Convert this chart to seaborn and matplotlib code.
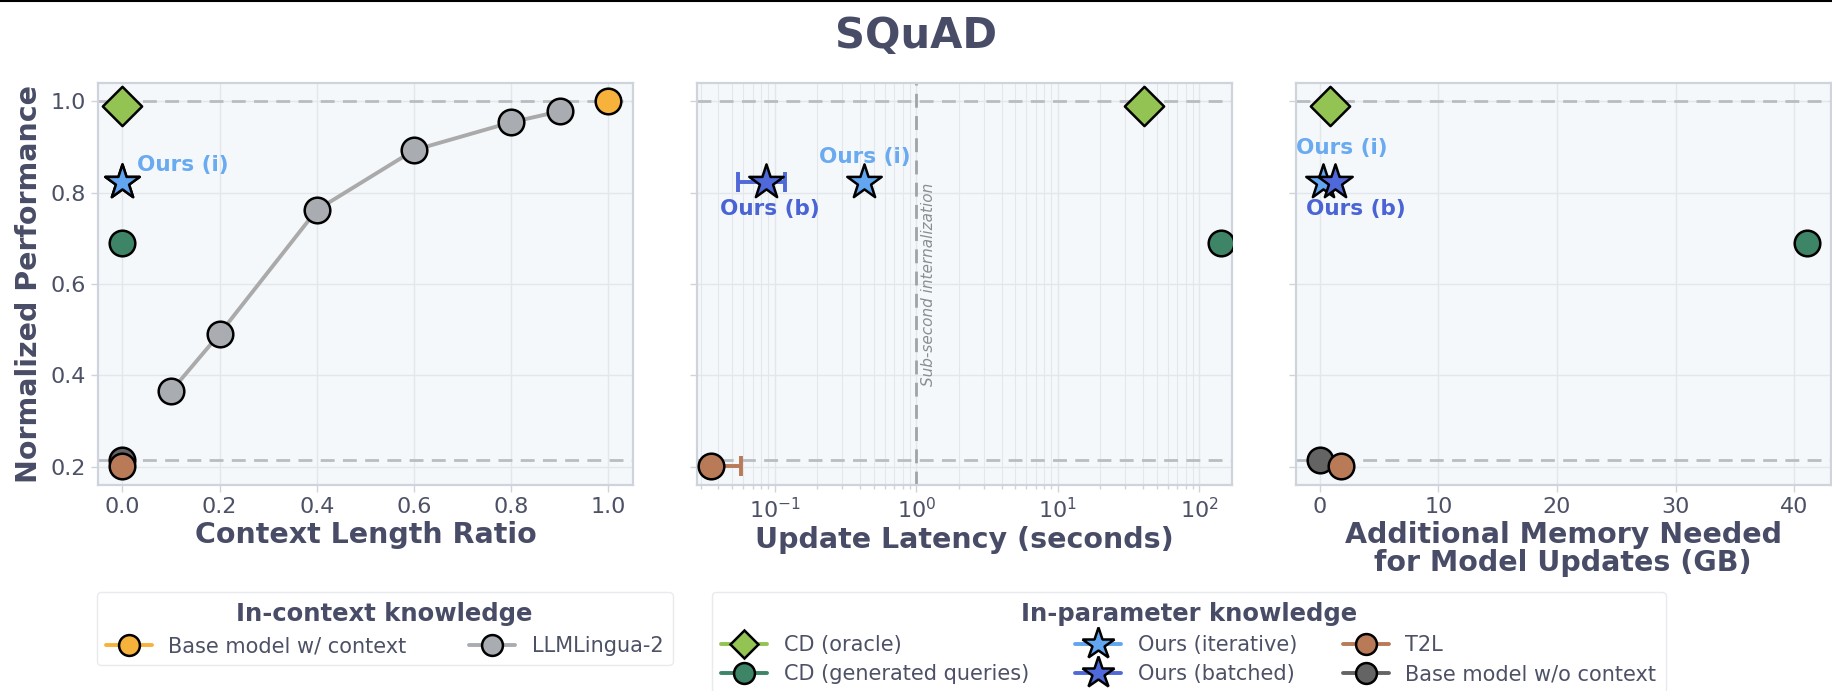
import matplotlib
matplotlib.use("Agg")
import matplotlib.pyplot as plt
from matplotlib.lines import Line2D
import seaborn as sns
import numpy as np

# ---------------- data ----------------
llml_ratio = [0.1, 0.2, 0.4, 0.6, 0.8, 0.9]
llml_perf = [0.365, 0.491, 0.762, 0.893, 0.954, 0.978]

base_ctx_ratio = [1.0]
base_ctx_perf = [1.0]
base_noctx_perf = 0.215

methods = ["CD (oracle)", "CD (generated queries)", "Ours (iterative)",
           "Ours (batched)", "T2L", "Base model w/o context"]
perf = [0.990, 0.689, 0.823, 0.823, 0.201, 0.215]
ctx_ratio = [0.0, 0.0, 0.0, 0.0, 0.0, 0.0]
latency = [40.5, 143.0, 0.428, 0.086, 0.0352, None]
latency_err_lo = [0, 0, 0, 0.031, 0.0, 0]
latency_err_hi = [0, 0, 0, 0.032, 0.0222, 0]
memory_gb = [0.83, 41.1, 0.3, 1.23, 1.79, 0.0]

colors = {
    "Base model w/ context": "#f7b23b",
    "LLMLingua-2": "#a9adb1",
    "CD (oracle)": "#92c353",
    "CD (generated queries)": "#3e8466",
    "Ours (iterative)": "#62a6f2",
    "Ours (batched)": "#4f68da",
    "T2L": "#b97a58",
    "Base model w/o context": "#646464",
}
markers = {
    "CD (oracle)": "D", "CD (generated queries)": "o", "Ours (iterative)": "*",
    "Ours (batched)": "*", "T2L": "o", "Base model w/o context": "o",
}
sizes = {"D": 400, "o": 340, "*": 680}

TXT = "#484c66"
TICK = "#4d5166"
SPINE = "#cfd4dc"
FACE = "#f5f8fa"
GRID = "#e3e7ec"

# ---------------- style ----------------
sns.set_theme(style="whitegrid")
plt.rcParams["font.family"] = ["DejaVu Sans"]

fig = plt.figure(figsize=(18.33, 6.91), dpi=100)
bottom, height = 0.2981, 0.5818
ax1 = fig.add_axes([0.0535, bottom, 0.2917, height])
ax2 = fig.add_axes([0.3800, bottom, 0.2921, height], sharey=ax1)
ax3 = fig.add_axes([0.7069, bottom, 0.2919, height], sharey=ax1)
axes = [ax1, ax2, ax3]

for ax in axes:
    ax.set_facecolor(FACE)
    for sp in ax.spines.values():
        sp.set_color(SPINE)
        sp.set_linewidth(1.6)
    ax.grid(True, which="major", color=GRID, linewidth=1.0)
    ax.tick_params(axis="both", which="major", labelsize=16, colors=SPINE,
                   labelcolor=TICK, length=5, width=1.0, bottom=True, left=True)
    ax.axhline(1.0, color="#b9bcc0", ls=(0, (5, 3)), lw=2.0, zorder=1)
    ax.axhline(base_noctx_perf, color="#b9bcc0", ls=(0, (5, 3)), lw=2.0, zorder=1)

order_draw = ["Ours (batched)", "CD (oracle)", "CD (generated queries)",
              "Ours (iterative)", "Base model w/o context", "T2L"]


def scatter(ax, x, y, name, z=5):
    m = markers[name]
    sns.scatterplot(x=[x], y=[y], ax=ax, marker=m, s=sizes[m],
                    color=colors[name], edgecolor="black", linewidth=1.8,
                    zorder=z, legend=False)


ANN = 15.5
# ---- panel 1: context length ratio ----
sns.lineplot(x=llml_ratio, y=llml_perf, ax=ax1, color="#aaaaaa", lw=2.8,
             zorder=3, legend=False)
sns.scatterplot(x=llml_ratio, y=llml_perf, ax=ax1, s=sizes["o"],
                color=colors["LLMLingua-2"], edgecolor="black", linewidth=1.8,
                zorder=4, legend=False)
sns.scatterplot(x=base_ctx_ratio, y=base_ctx_perf, ax=ax1, s=sizes["o"],
                color=colors["Base model w/ context"], edgecolor="black",
                linewidth=1.8, zorder=4, legend=False)
for name in order_draw:
    i = methods.index(name)
    scatter(ax1, ctx_ratio[i], perf[i], name)
ax1.set_xlim(-0.05, 1.05)
ax1.set_xticks([0.0, 0.2, 0.4, 0.6, 0.8, 1.0])
ax1.text(0.03, 0.86, "Ours (i)", color="#6aaaf0", fontsize=ANN,
         fontweight="bold", ha="left", va="center", zorder=6)
ax1.set_xlabel("Context Length Ratio", fontsize=20.5, fontweight="bold", color=TXT)
ax1.set_ylabel("Normalized Performance", fontsize=20.5, fontweight="bold", color=TXT)

# ---- panel 2: latency ----
ax2.set_xscale("log")
ax2.grid(True, which="minor", color=GRID, linewidth=0.8)
ax2.tick_params(axis="x", which="minor", length=3, colors=SPINE, bottom=True)
for name in order_draw:
    i = methods.index(name)
    if latency[i] is None:
        continue
    if latency_err_hi[i] > 0:
        ax2.errorbar([latency[i]], [perf[i]],
                     xerr=[[latency_err_lo[i]], [latency_err_hi[i]]],
                     fmt="none", ecolor=colors[name], elinewidth=2.8,
                     capsize=7, capthick=2.8, zorder=4)
    scatter(ax2, latency[i], perf[i], name)
ax2.axvline(1.0, color="#a0a3a8", ls=(0, (5, 3)), lw=2.0, zorder=2)
ax2.text(1.08, 0.60, "Sub-second internalization", rotation=90, style="italic",
         color="#8a8d92", fontsize=11, ha="left", va="center")
ax2.text(0.43, 0.878, "Ours (i)", color="#6aaaf0", fontsize=ANN,
         fontweight="bold", ha="center", va="center", zorder=6)
ax2.text(0.0927, 0.764, "Ours (b)", color="#4a64d6", fontsize=ANN,
         fontweight="bold", ha="center", va="center", zorder=6)
ax2.set_xlim(0.028, 170)
ax2.set_xlabel("Update Latency (seconds)", fontsize=20.5, fontweight="bold", color=TXT)
ax2.tick_params(axis="y", labelleft=False)

# ---- panel 3: memory ----
for name in ["Ours (iterative)", "CD (oracle)", "CD (generated queries)",
             "Ours (batched)", "Base model w/o context", "T2L"]:
    i = methods.index(name)
    scatter(ax3, memory_gb[i], perf[i], name)
ax3.set_xlim(-2.04, 43.1)
ax3.set_xticks([0, 10, 20, 30, 40])
ax3.text(1.85, 0.897, "Ours (i)", color="#6aaaf0", fontsize=ANN,
         fontweight="bold", ha="center", va="center", zorder=6)
ax3.text(3.03, 0.764, "Ours (b)", color="#4a64d6", fontsize=ANN,
         fontweight="bold", ha="center", va="center", zorder=6)
ax3.set_xlabel("Additional Memory Needed\nfor Model Updates (GB)", fontsize=20.5,
               fontweight="bold", color=TXT, linespacing=1.0)
ax3.tick_params(axis="y", labelleft=False)

ax1.set_ylim(0.16, 1.04)
ax1.set_yticks([0.2, 0.4, 0.6, 0.8, 1.0])
for ax in axes:
    ax.xaxis.labelpad = 3
ax1.yaxis.labelpad = 6

fig.suptitle("SQuAD", fontsize=30, fontweight="bold", color=TXT, y=0.978)

# top border line
fig.add_artist(Line2D([0, 1], [0.9985, 0.9985], transform=fig.transFigure,
                      color="black", lw=1.5))


# ---- legends ----
def handle(name, marker="o", ms=15):
    return Line2D([0], [0], color=colors[name], lw=2.8,
                  marker=marker, markersize=ms, markerfacecolor=colors[name],
                  markeredgecolor="black", markeredgewidth=1.8)


ctx_names = ["Base model w/ context", "LLMLingua-2"]
h1 = [handle(n) for n in ctx_names]
leg1 = fig.legend(h1, ctx_names, loc="upper center", bbox_to_anchor=(0.2098, 0.158),
                  ncol=2, title="In-context knowledge", fontsize=15,
                  title_fontproperties={"weight": "bold", "size": 17.5},
                  frameon=True, handlelength=2.2, columnspacing=3.0,
                  borderpad=0.45, handletextpad=0.8)

par_order = ["CD (oracle)", "CD (generated queries)", "Ours (iterative)",
             "Ours (batched)", "T2L", "Base model w/o context"]
h2 = []
for n in par_order:
    m = markers[n]
    ms = 15 if m == "o" else (14 if m == "D" else 24)
    h2.append(handle(n, marker=m, ms=ms))
leg2 = fig.legend(h2, par_order, loc="upper center", bbox_to_anchor=(0.6486, 0.158),
                  ncol=3, title="In-parameter knowledge", fontsize=15,
                  title_fontproperties={"weight": "bold", "size": 17.5},
                  frameon=True, handlelength=2.2, columnspacing=2.2,
                  borderpad=0.45, labelspacing=0.45, handletextpad=0.8)
for leg in (leg1, leg2):
    leg.get_frame().set_edgecolor("#e2e5ea")
    leg.get_frame().set_facecolor("white")
    leg.get_title().set_color(TXT)
    for t in leg.get_texts():
        t.set_color(TICK)

fig.savefig("out.png", dpi=100, facecolor="white")
